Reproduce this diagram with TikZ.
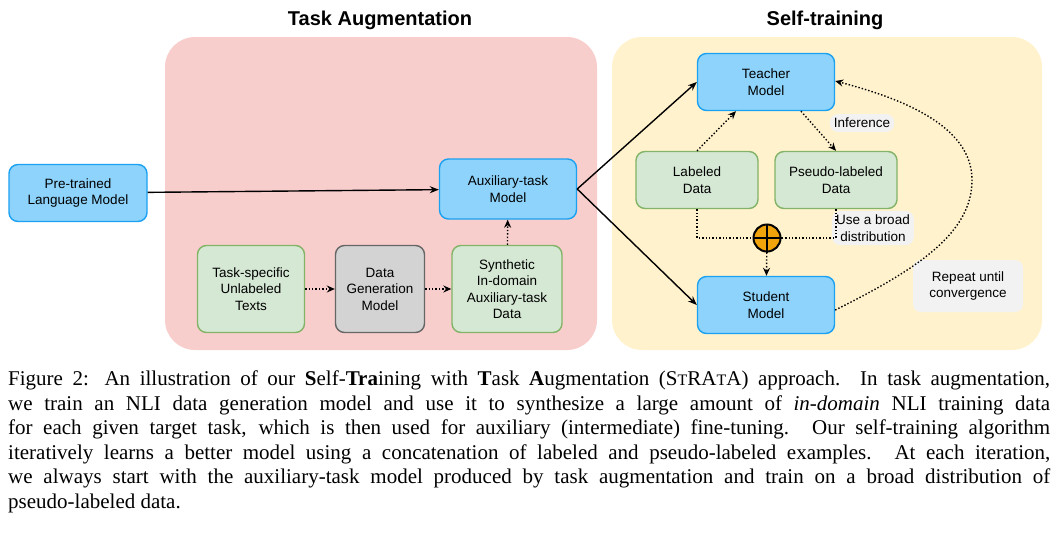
\documentclass[tikz,border=0pt]{standalone}
\usepackage{fontspec}
\setmainfont{Liberation Serif}
\newfontfamily\sansf{Liberation Sans}
\usetikzlibrary{arrows.meta}
\definecolor{bluef}{HTML}{8DD3FC}
\definecolor{blued}{HTML}{1BA1F2}
\definecolor{greenf}{HTML}{D5E8D4}
\definecolor{greend}{HTML}{82B366}
\definecolor{grayf}{HTML}{D3D3D3}
\definecolor{grayd}{HTML}{666666}
\definecolor{pinkf}{HTML}{F8CECC}
\definecolor{yelf}{HTML}{FFF2CC}
\definecolor{lblf}{HTML}{F2F2F2}
\definecolor{orng}{HTML}{F0A30A}
\begin{document}
\begin{tikzpicture}[x=1pt,y=-1pt,
  box/.style={rounded corners=9pt,line width=1.4pt,align=center,font=\sansf\fontsize{13.5}{16.5}\selectfont,inner sep=0pt},
  blue/.style={box,fill=bluef,draw=blued},
  green/.style={box,fill=greenf,draw=greend},
  gray/.style={box,fill=grayf,draw=grayd},
  lbl/.style={rounded corners=8pt,fill=lblf,align=center,font=\sansf\fontsize{13.5}{16.5}\selectfont,inner sep=4pt},
  title/.style={font=\sansf\bfseries\fontsize{20}{24}\selectfont},
  sol/.style={-{Stealth[length=9pt,width=7pt]},line width=1.4pt},
  dot/.style={-{Stealth[length=8pt,width=7pt]},line width=1.4pt,dotted}]
\useasboundingbox (0,0) rectangle (1064,541);
\fill[pinkf,rounded corners=30pt] (165,37) rectangle (597,350);
\fill[yelf,rounded corners=30pt] (612,37) rectangle (1042,350);
\node[title] (t1) at (380,20) {Task Augmentation};
\node[title] (t2) at (825,20) {Self-training};
\node[blue,minimum width=138pt,minimum height=57pt] (pre) at (78,193) {Pre-trained\\Language Model};
\node[blue,minimum width=137pt,minimum height=60pt] (aux) at (508,189) {Auxiliary-task\\Model};
\node[green,minimum width=107pt,minimum height=87pt] (ts) at (251,289) {Task-specific\\Unlabeled\\Texts};
\node[gray,minimum width=89pt,minimum height=87pt] (dg) at (380,289) {Data\\Generation\\Model};
\node[green,minimum width=110pt,minimum height=87pt] (syn) at (507,289) {Synthetic\\In-domain\\Auxiliary-task\\Data};
\node[blue,minimum width=137pt,minimum height=57pt] (tea) at (766,82) {Teacher\\Model};
\node[blue,minimum width=137pt,minimum height=57pt] (stu) at (766,305) {Student\\Model};
\node[green,minimum width=122pt,minimum height=57pt] (lab) at (697,180) {Labeled\\Data};
\node[green,minimum width=122pt,minimum height=57pt] (pse) at (836,180) {Pseudo-labeled\\Data};
\node[circle,fill=orng,draw=black,line width=2pt,minimum size=27pt,inner sep=0pt] (plus) at (767,238) {};
\draw[line width=2pt] (plus.north) -- (plus.south) (plus.west) -- (plus.east);
\node[lbl] (inf) at (862,123) {Inference};
\node[lbl] (bro) at (873,228) {Use a broad\\distribution};
\node[lbl,minimum width=110pt,minimum height=52pt] (rep) at (968,286) {Repeat until\\convergence};
\draw[sol] (pre) -- (aux);
\draw[sol] (aux.east) -- (tea.west);
\draw[sol] (aux.east) -- (stu.west);
\draw[dot] (syn) -- (aux);
\draw[dot] (ts) -- (dg);
\draw[dot] (dg) -- (syn);
\draw[dot] (lab.north) -- ([xshift=-30pt]tea.south);
\draw[dot] ([xshift=35pt]tea.south) -- (pse.north);
\draw[line width=1.4pt,dotted] (lab.south) |- (plus.west);
\draw[line width=1.4pt,dotted] (pse.south) |- (plus.east);
\draw[dot] (plus) -- (stu);
\coordinate (lp) at (972,180);
\draw[dot] ([yshift=-5pt]stu.east) .. controls (920,268) and (972,232) .. (lp) .. controls (972,125) and (900,98) .. ([yshift=1pt]tea.east);
\node[anchor=north west,inner sep=0pt,text width=1042pt,align=justify,font=\fontsize{21}{24.5}\selectfont] (cap) at (8,371) {%
Figure 2: An illustration of our \textbf{S}elf-\textbf{Tra}ining with \textbf{T}ask \textbf{A}ugmentation (S{\fontsize{16}{16}\selectfont T}RA{\fontsize{16}{16}\selectfont T}A) approach. In task augmentation,\linebreak
we train an NLI data generation model and use it to synthesize a large amount of \emph{in-domain} NLI training data\linebreak
for each given target task, which is then used for auxiliary (intermediate) fine-tuning. Our self-training algorithm\linebreak
iteratively learns a better model using a concatenation of labeled and pseudo-labeled examples. At each iteration,\linebreak
we always start with the auxiliary-task model produced by task augmentation and train on a broad distribution of\linebreak
pseudo-labeled data.\par};
\end{tikzpicture}
\end{document}
